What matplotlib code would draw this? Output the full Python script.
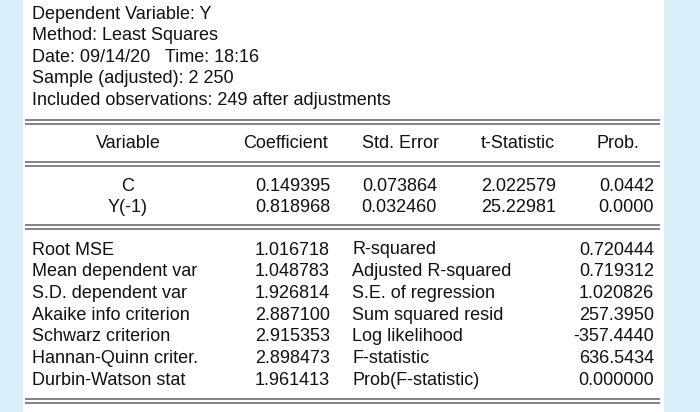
import matplotlib.pyplot as plt
from matplotlib.patches import Rectangle

header_lines = [
    "Dependent Variable: Y",
    "Method: Least Squares",
    "Date: 09/14/20   Time: 18:16",
    "Sample (adjusted): 2 250",
    "Included observations: 249 after adjustments",
]
col_names = ["Variable", "Coefficient", "Std. Error", "t-Statistic", "Prob."]
variables = ["C", "Y(-1)"]
coefs = ["0.149395", "0.818968"]
std_errs = ["0.073864", "0.032460"]
t_stats = ["2.022579", "25.22981"]
probs = ["0.0442", "0.0000"]
left_stats = ["Root MSE", "Mean dependent var", "S.D. dependent var",
              "Akaike info criterion", "Schwarz criterion",
              "Hannan-Quinn criter.", "Durbin-Watson stat"]
left_vals = ["1.016718", "1.048783", "1.926814", "2.887100",
             "2.915353", "2.898473", "1.961413"]
right_stats = ["R-squared", "Adjusted R-squared", "S.E. of regression",
               "Sum squared resid", "Log likelihood", "F-statistic",
               "Prob(F-statistic)"]
right_vals = ["0.720444", "0.719312", "1.020826", "257.3950",
              "-357.4440", "636.5434", "0.000000"]

plt.rcParams['font.family'] = ['Liberation Sans', 'DejaVu Sans']
fig = plt.figure(figsize=(7, 4.12), dpi=100)
ax = fig.add_axes([0, 0, 1, 1])
ax.set_xlim(0, 700)
ax.set_ylim(412, 0)
ax.axis('off')

blue = '#d9eef8'
ax.add_patch(Rectangle((0, 0), 23, 412, color=blue, lw=0))
ax.add_patch(Rectangle((664, 0), 36, 412, color=blue, lw=0))

fs = 13
kw = dict(fontsize=fs, va='center', color='#111')

for i, s in enumerate(header_lines):
    ax.text(32, 14 + i * 21.5, s, ha='left', **kw)

def double_line(y):
    for dy in (0, 4):
        ax.plot([25, 660], [y + dy, y + dy], color='#7a7a7a', lw=1.3,
                solid_capstyle='butt')

double_line(120)
header_x = [128, 286, 400, 518, 618]
for x, s in zip(header_x, col_names):
    ax.text(x, 143, s, ha='center', **kw)
double_line(162)

val_x = [330, 437, 556, 654]
for i, v in enumerate(variables):
    y = 186 + i * 21.5
    ax.text(128, y, v, ha='center', **kw)
    for x, col in zip(val_x, [coefs, std_errs, t_stats, probs]):
        ax.text(x, y, col[i], ha='right', **kw)
double_line(225)

for i in range(len(left_stats)):
    y = 250 + i * 21.7
    ax.text(32, y, left_stats[i], ha='left', **kw)
    ax.text(330, y, left_vals[i], ha='right', **kw)
    ax.text(352, y, right_stats[i], ha='left', **kw)
    ax.text(654, y, right_vals[i], ha='right', **kw)
double_line(399)

fig.savefig('out.png', dpi=100)
